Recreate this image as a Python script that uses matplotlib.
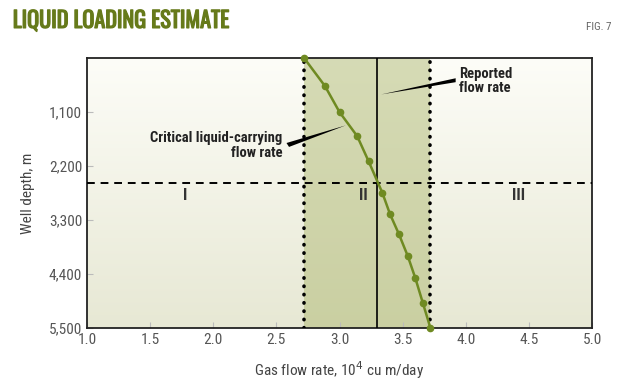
import numpy as np
from matplotlib import pyplot as plt
from matplotlib import font_manager
from matplotlib import patheffects
from matplotlib.patches import Polygon
from matplotlib.colors import LinearSegmentedColormap

# curve: critical liquid-carrying flow rate vs depth
depth = [0, 570, 1100, 1590, 2100, 2750, 3180, 3585, 4030, 4480, 4990, 5500]
rate = [2.72, 2.885, 3.00, 3.14, 3.23, 3.34, 3.40, 3.47, 3.54, 3.60, 3.66, 3.72]

rate_low = 2.72
rate_high = 3.72
rate_reported = 3.30
depth_split = 2550

xticks = [1.0, 1.5, 2.0, 2.5, 3.0, 3.5, 4.0, 4.5, 5.0]
yticks = [1100, 2200, 3300, 4400, 5500]
ytick_labels = ["1,100", "2,200", "3,300", "4,400", "5,500"]

regions = ["I", "II", "III"]
region_x = [1.78, 3.19, 4.42]

# pick condensed faces that are actually installed
names = set(f.name for f in font_manager.fontManager.ttflist)
def pick(cands):
    got = [c for c in cands if c in names]
    return got[:1] + ["DejaVu Sans"]

title_font = pick(["Oswald", "Roboto Condensed", "Fira Sans Condensed",
                   "Open Sans Condensed", "Liberation Sans Narrow"])
narrow = pick(["Roboto Condensed", "Fira Sans Condensed", "Open Sans Condensed",
               "Liberation Sans Narrow"])
plt.rcParams["font.family"] = narrow

olive = "#6f8a22"
title_col = "#667a1a"

fig = plt.figure(figsize=(6.4, 3.8), dpi=100)
ax = fig.add_axes([0.136, 0.137, 0.789, 0.710])

grad = np.linspace(0, 1, 256).reshape(-1, 1)
cmap = LinearSegmentedColormap.from_list("bg", ["#fdfdf8", "#e7e8d4"])
ax.imshow(grad, extent=[1.0, 5.0, 5500, 0], aspect="auto", cmap=cmap, zorder=0)

ax.axvspan(rate_low, rate_high, color="#a7b265", alpha=0.45, lw=0, zorder=1)

ax.axvline(rate_low, color="black", lw=2.6, ls=(0, (0.1, 2.2)), dash_capstyle="round", zorder=3)
ax.axvline(rate_high, color="black", lw=2.6, ls=(0, (0.1, 2.2)), dash_capstyle="round", zorder=3)
ax.axvline(rate_reported, color="black", lw=1.2, zorder=3)
ax.axhline(depth_split, color="black", lw=1.4, ls=(0, (4, 3)), zorder=3)

ax.plot(rate, depth, color=olive, lw=1.8, marker="o", ms=4.5, zorder=4, clip_on=False)

for lab, xx in zip(regions, region_x):
    ax.text(xx, 2800, lab, ha="center", va="center", fontsize=12, fontweight="bold",
            color="#333333")

ax.add_patch(Polygon([(2.58, 1730), (2.60, 1810), (3.05, 1370)], closed=True,
                     color="black", lw=0, zorder=5))
ax.add_patch(Polygon([(3.92, 410), (3.92, 490), (3.33, 740)], closed=True,
                     color="black", lw=0, zorder=5))
ax.text(2.55, 1780, "Critical liquid-carrying\nflow rate", ha="right", va="center",
        fontsize=10.5, fontweight="bold", color="#222222", linespacing=1.05)
ax.text(3.95, 470, "Reported\nflow rate", ha="left", va="center",
        fontsize=10.5, fontweight="bold", color="#222222", linespacing=1.05)

ax.set_xlim(1.0, 5.0)
ax.set_ylim(5500, 0)
ax.set_xticks(xticks)
ax.set_xticklabels([f"{t:.1f}" for t in xticks])
ax.set_yticks(yticks)
ax.set_yticklabels(ytick_labels)
ax.tick_params(direction="in", length=4, color="#bbbbbb", labelcolor="#555555",
               labelsize=11)
for s in ax.spines.values():
    s.set_linewidth(1.3)
    s.set_color("#222222")

ax.set_xlabel("Gas flow rate, 10$^4$ cu m/day", fontsize=11, color="#444444", labelpad=9)
ax.set_ylabel("Well depth, m", fontsize=11, color="#444444", labelpad=10)

t = fig.text(0.02, 0.945, "LIQUID LOADING ESTIMATE", fontsize=16, fontweight="bold",
             color=title_col, family=title_font, va="center")
t.set_path_effects([patheffects.withStroke(linewidth=0.9, foreground=title_col)])
fig.text(0.955, 0.93, "FIG. 7", fontsize=8, color="#666666", ha="right", va="center")

plt.savefig("out.png", dpi=100)
